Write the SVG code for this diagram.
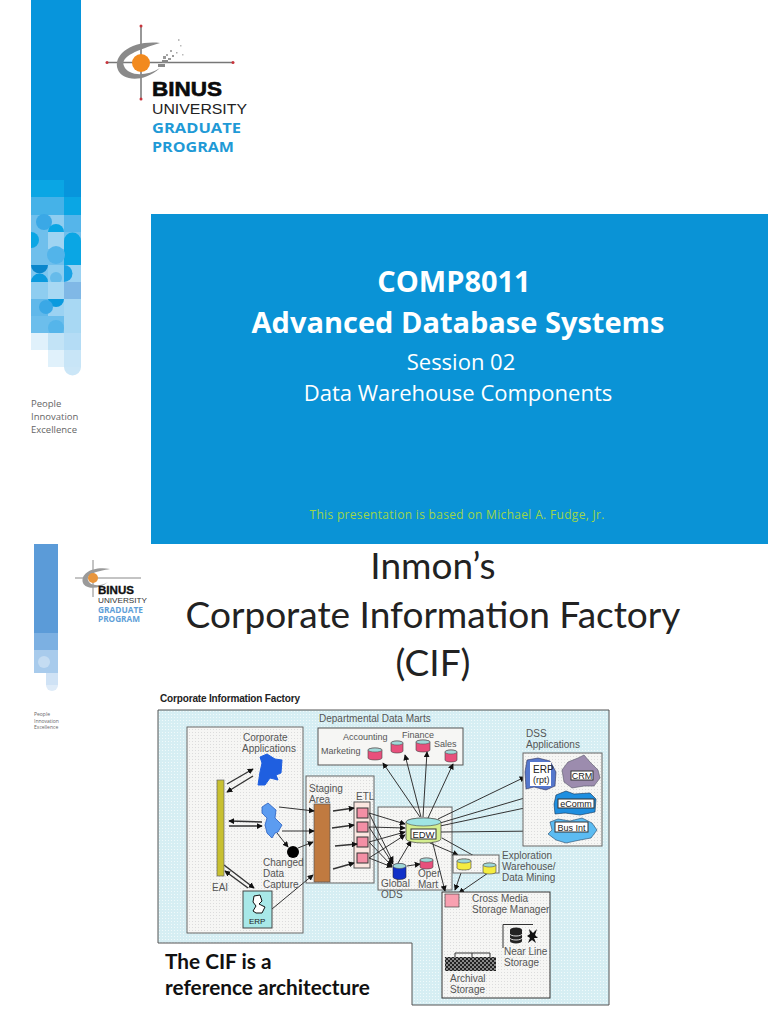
<svg xmlns="http://www.w3.org/2000/svg" width="768" height="1024" viewBox="0 0 768 1024">
<style>
svg{font-family:"Liberation Sans",Arial,sans-serif}
.ti{font-family:"Open Sans",sans-serif;fill:#fff;text-anchor:middle}
.h{font-family:Lato,"Noto Sans",sans-serif;fill:#222;text-anchor:middle;font-size:37px}
.l{font-size:10px;fill:#555}
.m{font-size:9px;fill:#555}
.d{font-size:10px;fill:#222}
.box{fill:url(#dotW);stroke:#666;stroke-width:1}
.c{stroke:#333;stroke-width:1;fill:none;marker-end:url(#ah)}
.dc{stroke:#333;stroke-width:1.4;fill:none;marker-end:url(#ah)}
.in{fill:#fff;stroke:#333;stroke-width:1}
.pk{fill:#f48fa5;stroke:#333;stroke-width:1}
.cap{fill:#9fd8d8;stroke:#555;stroke-width:.6}
.logoG{font-family:"Open Sans",sans-serif;font-weight:700;fill:#1f9ad6}
.peo{font-family:"Open Sans",sans-serif;fill:#666}
</style>
<defs>
<pattern id="dotB" width="3" height="3" patternUnits="userSpaceOnUse"><rect width="3" height="3" fill="#d6eef3"/><rect width="1" height="1" fill="#f0fafb"/></pattern>
<pattern id="dotW" width="3" height="3" patternUnits="userSpaceOnUse"><rect width="3" height="3" fill="#f6f6f4"/><rect width="1" height="1" fill="#dcdcdc"/></pattern>
<pattern id="arch" width="4" height="4" patternUnits="userSpaceOnUse"><rect width="4" height="4" fill="#888"/><rect width="2" height="2" fill="#222"/><rect x="2" y="2" width="2" height="2" fill="#222"/></pattern>
<marker id="ah" viewBox="0 0 8 8" refX="7" refY="4" markerWidth="6" markerHeight="6" markerUnits="userSpaceOnUse" orient="auto"><path d="M0 0L8 4L0 8z" fill="#111"/></marker>
</defs>

<rect width="768" height="1024" fill="#fff"/>

<g id="slide1-band">
<rect x="31" y="0" width="50" height="180" fill="#0795dc"/>
<rect x="31" y="180" width="33" height="17" fill="#0aa6e4"/><rect x="64" y="180" width="17" height="17" fill="#0795dc"/>
<rect x="31" y="197" width="33" height="18" fill="#45b2e8"/><rect x="64" y="197" width="17" height="18" fill="#0aa6e4"/>
<rect x="31" y="215" width="50" height="118" fill="#6fbfec"/>
<rect x="48" y="215" width="16" height="17" fill="#8fcdf0"/><rect x="64" y="215" width="17" height="17" fill="#55b5ea"/>
<circle cx="44" cy="222" r="8" fill="#3aa8e6"/><path d="M48 232a8 8 0 0 1 16 0v0a8 8 0 0 1-16 0z" fill="#0aa6e4"/>
<path d="M31 232a8 8 0 0 1 0 16z" fill="#0aa6e4"/><path d="M64 265v-24a8.500 8.500 0 0 1 17 0v24z" fill="#0aa6e4"/>
<rect x="48" y="232" width="16" height="17" fill="#9fd4f2"/>
<circle cx="56" cy="255" r="9" fill="#52b4ea"/>
<rect x="31" y="265" width="17" height="17" fill="#7cc5ee"/><rect x="48" y="265" width="16" height="17" fill="#8dcdf0"/><rect x="64" y="265" width="17" height="17" fill="#9bd2f2"/>
<path d="M31 265h17a8.500 8.500 0 0 1-17 0z" fill="#0a86cc"/><path d="M31 282h17a8.500 8.500 0 0 0-17 0z" fill="#0a9ade"/>
<path d="M64 265a8.500 8.500 0 0 1 0 17z" fill="#1aa2e4"/><circle cx="56" cy="278" r="6" fill="#66bbea"/>
<rect x="64" y="282" width="17" height="17" fill="#80b8e6"/><rect x="31" y="282" width="17" height="17" fill="#8ecdf0"/><rect x="48" y="282" width="16" height="17" fill="#a8d8f3"/>
<rect x="31" y="299" width="17" height="17" fill="#60b8ea"/><rect x="48" y="299" width="16" height="17" fill="#9bd2f2"/><rect x="64" y="299" width="17" height="17" fill="#a8d8f3"/>
<path d="M48 299h16a8 8 0 0 1-16 0z" fill="#0a9ade"/><circle cx="46" cy="307" r="7" fill="#3aa8e6"/>
<rect x="31" y="316" width="33" height="17" fill="#6cbeec"/><rect x="64" y="316" width="17" height="17" fill="#a8d8f3"/><circle cx="56" cy="328" r="8" fill="#55b5ea"/>
<rect x="31" y="333" width="17" height="17" fill="#e0f1fb"/><rect x="48" y="333" width="16" height="17" fill="#c2e3f6"/><rect x="64" y="333" width="17" height="17" fill="#b4dcf5"/>
<rect x="48" y="350" width="16" height="17" fill="#e0f1fb"/><rect x="64" y="350" width="17" height="17" fill="#c8e5f7"/>
<path d="M64 367h17a8.500 8.500 0 0 1-17 0z" fill="#cbe6f7"/>
</g>

<g id="slide1-logo">
<path d="M141 26V99M107 62.500H233" stroke="#777" stroke-width="1.500" fill="none"/>
<circle cx="141" cy="26" r="1.500" fill="#c8343c"/><circle cx="141" cy="99" r="1.500" fill="#c8343c"/><circle cx="107" cy="62.500" r="1.500" fill="#c8343c"/><circle cx="233" cy="62.500" r="1.500" fill="#c8343c"/>
<path d="M160 43C132 40 112 55 118 70C122 80 142 84 160 68C146 77 128 76 124 66C120 56 138 50 160 43z" fill="#8a8a8a"/>
<rect x="166" y="54" width="2" height="2" fill="#aaa"/><rect x="170" y="50" width="2" height="2" fill="#aaa"/><rect x="168" y="58" width="3" height="2" fill="#999"/><rect x="172" y="55" width="2" height="2" fill="#999"/><rect x="176" y="52" width="1.500" height="1.500" fill="#aaa"/><rect x="180" y="45" width="1.500" height="1.500" fill="#bbb"/><rect x="182" y="54" width="1.500" height="1.500" fill="#bbb"/><rect x="162" y="60" width="6" height="3" fill="#888"/><rect x="158" y="64" width="7" height="3" fill="#888"/><rect x="178" y="39" width="1.500" height="2" fill="#bbb"/><rect x="163" y="56" width="3" height="3" fill="#999"/>
<circle cx="141" cy="63" r="9" fill="#f28a1e"/>
<text x="152" y="96" font-weight="700" font-size="20" fill="#0b0b0b" stroke="#0b0b0b" stroke-width=".6" textLength="70" lengthAdjust="spacingAndGlyphs">BINUS</text>
<text x="152" y="114" font-size="15.500" fill="#222" textLength="95" lengthAdjust="spacingAndGlyphs">UNIVERSITY</text>
<text class="logoG" x="152" y="133" font-size="15" textLength="89" lengthAdjust="spacingAndGlyphs">GRADUATE</text>
<text class="logoG" x="152" y="152" font-size="15" textLength="82" lengthAdjust="spacingAndGlyphs">PROGRAM</text>
<text class="peo" x="31" y="407" font-size="9.500">People</text>
<text class="peo" x="31" y="420" font-size="9.500">Innovation</text>
<text class="peo" x="31" y="433" font-size="9.500">Excellence</text>
</g>

<g id="slide1-panel">
<rect x="151" y="214" width="617" height="330" fill="#0a93d6"/>
<text class="ti" x="454" y="292" font-size="29" font-weight="700">COMP8011</text>
<text class="ti" x="458" y="333" font-size="29" font-weight="700">Advanced Database Systems</text>
<text class="ti" x="461" y="370" font-size="22">Session 02</text>
<text class="ti" x="458" y="401" font-size="22">Data Warehouse Components</text>
<text x="457" y="519" text-anchor="middle" font-family="'Open Sans',sans-serif" font-size="12" fill="#9dd64a" textLength="295">This presentation is based on Michael A. Fudge, Jr.</text>
</g>

<g id="slide2-band">
<rect x="34" y="544" width="24" height="89" fill="#5b9bd8"/>
<rect x="34" y="633" width="24" height="17" fill="#7cb0e2"/>
<rect x="34" y="650" width="24" height="23" fill="#a8cbec"/><circle cx="44" cy="662" r="6" fill="#c4dcf2"/>
<rect x="46" y="673" width="12" height="12" fill="#cfe2f5"/><path d="M46 685h12a6 6 0 0 1-12 0z" fill="#deebf8"/>
</g>
<g id="slide2-logo">
<path d="M93 560V597M75 578H141" stroke="#888" stroke-width="1" fill="none"/>
<path d="M110 569C92 566 80 574 83 583C86 590 100 589 108 582C100 587 90 586 88 580C86 574 98 571 110 569z" fill="#9a9a9a"/>
<circle cx="93" cy="578" r="5" fill="#e8953c"/>
<text x="98" y="594" font-weight="700" font-size="10" fill="#111" stroke="#111" stroke-width=".3" textLength="36" lengthAdjust="spacingAndGlyphs">BINUS</text>
<text x="98" y="603" font-size="7.500" fill="#333" textLength="49" lengthAdjust="spacingAndGlyphs">UNIVERSITY</text>
<text x="98" y="613" font-family="'Open Sans',sans-serif" font-weight="700" font-size="8" fill="#5f9fd8" textLength="45" lengthAdjust="spacingAndGlyphs">GRADUATE</text>
<text x="98" y="622" font-family="'Open Sans',sans-serif" font-weight="700" font-size="8" fill="#5f9fd8" textLength="42" lengthAdjust="spacingAndGlyphs">PROGRAM</text>
<text class="peo" x="34" y="716" font-size="5">People</text>
<text class="peo" x="34" y="723" font-size="5">Innovation</text>
<text class="peo" x="34" y="729" font-size="5">Excellence</text>
</g>

<g id="slide2-title">
<text class="h" x="433" y="579">Inmon’s</text>
<text class="h" x="433" y="628">Corporate Information Factory</text>
<text class="h" x="433" y="676">(CIF)</text>
</g>

<text x="160" y="702" font-size="10" font-weight="700" fill="#222" textLength="140">Corporate Information Factory</text>

<g id="frame">
<path d="M158 710H609V1005H412V943H158z" fill="url(#dotB)" stroke="#555" stroke-width="1"/>
<text class="l" x="319" y="722">Departmental Data Marts</text>
</g>

<g id="enterprise"><rect class="box" x="187" y="727" width="116" height="206"/>
<text class="l" x="243" y="741">Corporate</text><text class="l" x="242" y="752">Applications</text>
<text class="l" x="263" y="866">Changed</text><text class="l" x="263" y="877">Data</text><text class="l" x="263" y="888">Capture</text>
<text class="l" x="212" y="891">EAI</text></g>
<g id="marts"><rect x="318" y="728" width="145" height="37" fill="#f6f6f4" stroke="#555"/>
<text class="m" x="343" y="740">Accounting</text><text class="m" x="321" y="754">Marketing</text><text class="m" x="402" y="738">Finance</text><text class="m" x="434" y="747">Sales</text>
<path d="M368 750a7 2 0 0 1 14 0v8a7 2 0 0 1-14 0z" fill="#e8507c" stroke="#444" stroke-width=".6"/><ellipse class="cap" cx="375" cy="750" rx="7" ry="2"/>
<path d="M391 743a6 2 0 0 1 12 0v8a6 2 0 0 1-12 0z" fill="#e8507c" stroke="#444" stroke-width=".6"/><ellipse class="cap" cx="397" cy="743" rx="6" ry="2"/>
<path d="M416 742a7 2 0 0 1 14 0v8a7 2 0 0 1-14 0z" fill="#e8507c" stroke="#444" stroke-width=".6"/><ellipse class="cap" cx="423" cy="742" rx="7" ry="2"/>
<path d="M445 752a6 2 0 0 1 12 0v8a6 2 0 0 1-12 0z" fill="#e8507c" stroke="#444" stroke-width=".6"/><ellipse class="cap" cx="451" cy="752" rx="6" ry="2"/></g>
<g id="staging"><rect class="box" x="306" y="776" width="68" height="107"/>
<text class="l" x="309" y="792">Staging</text><text class="l" x="309" y="803">Area</text>
<rect x="314" y="804" width="16" height="78" fill="#c07a40" stroke="#555" stroke-width=".7"/></g>
<g id="etl"><text class="l" x="356" y="800">ETL</text><rect x="354" y="802" width="16" height="66" fill="#fbe6e0" stroke="#555"/>
<rect class="pk" x="357" y="808" width="11" height="10"/><rect class="pk" x="357" y="822" width="11" height="10"/><rect class="pk" x="357" y="837" width="11" height="10"/><rect class="pk" x="357" y="853" width="11" height="10"/></g>
<g id="edwbox"><rect class="box" x="378" y="807" width="74" height="83"/>
<text class="l" x="381" y="887">Global</text><text class="l" x="381" y="898">ODS</text><text class="l" x="418" y="877">Oper</text><text class="l" x="418" y="888">Mart</text></g>

<g id="connectors">
<path class="dc" d="M227 784L253 769"/><path class="dc" d="M253 776L227 792"/>
<path class="dc" d="M262 822L229 821"/><path class="dc" d="M229 826L262 826"/>
<path class="c" d="M279 807L314 811"/><path class="c" d="M282 831L314 831"/><path class="c" d="M277 833L288 847"/><path class="c" d="M298 848L313 842"/>
<path class="dc" d="M224 865L254 888"/><path class="dc" d="M248 888L225 871"/><path class="c" d="M272 909L313 875"/>
<path class="dc" d="M333 811L354 808"/><path class="dc" d="M332 828L354 825"/><path class="dc" d="M335 846L357 844"/><path class="dc" d="M333 869L354 863"/>
<path class="c" d="M369 813L405 824"/><path class="c" d="M369 827L405 828"/><path class="c" d="M369 842L405 832"/><path class="c" d="M369 858L405 835"/>
<path class="c" d="M369 813L393 862"/><path class="c" d="M369 827L393 864"/><path class="c" d="M369 842L392 866"/><path class="c" d="M369 858L392 867"/>
<path class="c" d="M398 863L411 841"/><path class="c" d="M407 866L420 864"/>
<path class="c" d="M420 817L383 763"/><path class="c" d="M421 817L405 755"/><path class="c" d="M423 817L427 752"/><path class="c" d="M428 818L453 764"/>
<path class="c" d="M438 819L525 777"/><path class="c" d="M440 823L565 786"/><path class="c" d="M440 826L553 802"/><path class="c" d="M441 832L543 831"/>
<path class="c" d="M430 843L458 855"/><path class="c" d="M442 838L485 862"/><path class="c" d="M432 840L445 891"/>
<path class="c" d="M461 873L455 890"/><path class="c" d="M488 873L459 893"/>
<path class="dc" d="M448 908L455 948"/><path class="dc" d="M457 948L453 908"/>
<path class="dc" d="M455 908L502 932"/><path class="dc" d="M502 928L463 908"/>
<path class="dc" d="M485 952L502 942"/><path class="dc" d="M502 945L486 955"/>
</g>

<g id="eai"><rect x="217" y="780" width="7" height="96" fill="#c8c030" stroke="#666" stroke-width=".7"/></g>
<g id="corp-app"><path d="M260 757L267 754L275 759L282 760L281 773L276 775L278 780L270 778L265 785L258 785L260 772L262 763z" fill="#1f5fe0" stroke="#1f5fe0" stroke-linejoin="round"/></g>
<g id="corp-app2"><path d="M262 807L268 803L276 810L275 818L282 825L278 832L275 833L272 838L267 833L265 825L267 818L262 813z" fill="#5c9cf0" stroke="#2a60c0" stroke-width=".8" stroke-linejoin="round"/></g>
<g id="cdc"><circle cx="293" cy="852" r="6" fill="#000"/></g>
<g id="erp"><rect x="243" y="891" width="29" height="37" fill="#a8e8e8" stroke="#444"/>
<path d="M254 896L260 895L262 901L259 904L265 907L262 913L256 913L253 911L256 906L253 902z" fill="#fff" stroke="#111" stroke-linejoin="round"/>
<text class="d" x="249" y="924" style="font-size:8px">ERP</text></g>
<g id="edw"><path d="M406 822a17.500 4 0 0 1 35 0v17a17.500 4 0 0 1-35 0z" fill="#d4ee90" stroke="#444" stroke-width=".7"/><ellipse cx="423.500" cy="822" rx="17.500" ry="4" fill="#9fe4e4" stroke="#444" stroke-width=".6"/>
<rect class="in" x="411" y="829" width="25" height="10"/><text class="d" x="423.500" y="838" text-anchor="middle" style="font-size:9.500px">EDW</text></g>
<g id="ods"><path d="M393 866a6.500 2.500 0 0 1 13 0v11a6.500 2.500 0 0 1-13 0z" fill="#1030c8" stroke="#223" stroke-width=".6"/><ellipse class="cap" cx="399.500" cy="866" rx="6.500" ry="2.500"/></g>
<g id="oper"><path d="M420 860a6.500 2 0 0 1 13 0v7a6.500 2 0 0 1-13 0z" fill="#e8507c" stroke="#444" stroke-width=".6"/><ellipse class="cap" cx="426.500" cy="860" rx="6.500" ry="2"/></g>
<g id="dss"><rect class="box" x="523" y="753" width="79" height="93"/>
<text class="l" x="526" y="737">DSS</text><text class="l" x="526" y="748">Applications</text>
<path d="M527 760L538 758L550 761L556 772L555 786L546 790L534 787L526 789L525 772z" fill="#5577cc" stroke="#335" stroke-width=".6" stroke-linejoin="round"/>
<rect x="530" y="762" width="21" height="24" fill="#fff"/><text class="d" x="533" y="773">ERP</text><text class="d" x="533" y="783" style="font-size:9px">(rpt)</text>
<path d="M562 770L568 762L578 758L584 755L590 762L598 770L600 778L594 786L584 786L572 788L564 782z" fill="#9c8cae" stroke="#556" stroke-width=".6" stroke-linejoin="round"/>
<rect class="in" x="571" y="771" width="22" height="9"/><text class="d" x="582" y="779" text-anchor="middle" style="font-size:9px">CRM</text>
<path d="M556 795L566 791L574 794L590 793L596 799L595 812L580 815L565 813L555 814L554 804z" fill="#1f8fe0" stroke="#135" stroke-width=".6" stroke-linejoin="round"/>
<rect class="in" x="558" y="799" width="36" height="9"/><text class="d" x="576" y="807" text-anchor="middle" style="font-size:9px">eComm</text>
<path d="M550 822L558 819L570 821L582 818L592 823L597 830L591 838L580 840L566 843L556 840L548 834L552 830z" fill="#5cbcf2" stroke="#246" stroke-width=".6" stroke-linejoin="round"/>
<rect class="in" x="555" y="822" width="33" height="10"/><text class="d" x="571.500" y="831" text-anchor="middle" style="font-size:9px">Bus Int</text></g>
<g id="exploration"><rect class="box" x="453" y="855" width="46" height="18"/>
<text class="l" x="502" y="859">Exploration</text><text class="l" x="502" y="870">Warehouse/</text><text class="l" x="502" y="881">Data Mining</text>
<path d="M457 861a7 2 0 0 1 14 0v7a7 2 0 0 1-14 0z" fill="#f4ec40" stroke="#444" stroke-width=".6"/><ellipse class="cap" cx="464" cy="861" rx="7" ry="2"/>
<path d="M483 865a6.500 2 0 0 1 13 0v7a6.500 2 0 0 1-13 0z" fill="#f4ec40" stroke="#444" stroke-width=".6"/><ellipse class="cap" cx="489.500" cy="865" rx="6.500" ry="2"/></g>
<g id="cross"><rect class="box" x="442" y="892" width="108" height="106" style="stroke:#333"/>
<rect x="445" y="894" width="14" height="13" fill="#f8a0b0" stroke="#444" stroke-width=".7"/>
<text class="l" x="472" y="902">Cross Media</text><text class="l" x="472" y="913">Storage Manager</text>
<text class="l" x="504" y="955">Near Line</text><text class="l" x="504" y="966">Storage</text>
<text class="l" x="450" y="982">Archival</text><text class="l" x="450" y="993">Storage</text>
<path d="M503 948V924.500H533" stroke="#333" fill="none"/>
<path d="M510 930a6 2.500 0 0 1 12 0v11a6 2.500 0 0 1-12 0z" fill="#222"/><path d="M510 934a6 2 0 0 0 12 0M510 938a6 2 0 0 0 12 0" stroke="#ddd" fill="none"/>
<path d="M529 929L533 933L537 929L535 935L538 938L534 938L536 943L532 940L528 943L530 938L527 936L530 934z" fill="#111"/>
<path d="M455 957V953H490V957M472 953V957" stroke="#333" fill="none"/>
<rect x="445" y="957" width="51" height="14" fill="url(#arch)"/></g>

<g id="caption">
<text x="165" y="969" font-family="Lato,sans-serif" font-weight="700" font-size="20.800" fill="#111">The CIF is a</text>
<text x="165" y="995" font-family="Lato,sans-serif" font-weight="700" font-size="20.800" fill="#111">reference architecture</text>
</g>
</svg>
